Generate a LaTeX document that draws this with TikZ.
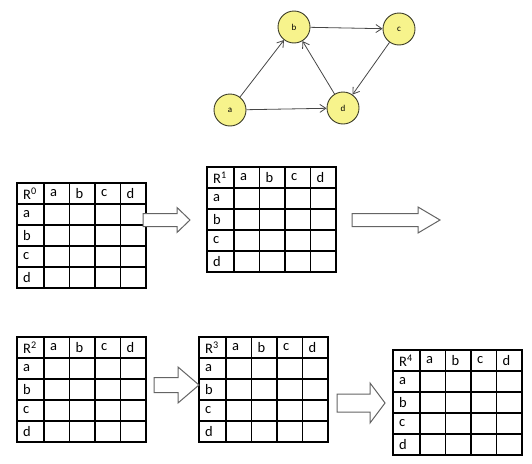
\documentclass[tikz,border=0pt]{standalone}
\usepackage{fontspec}
\setmainfont{Carlito}
\usepackage{tikz}
\usetikzlibrary{arrows.meta}

\definecolor{nodefill}{RGB}{247,243,140}
\definecolor{nodeline}{RGB}{60,60,40}
\definecolor{edgegray}{RGB}{70,70,70}
\definecolor{boxgray}{RGB}{100,100,100}

\tikzset{
  vertex/.style={circle,draw=nodeline,fill=nodefill,line width=0.9pt,
    minimum size=32pt,inner sep=0pt,font=\fontsize{9}{9}\selectfont},
  edge/.style={draw=edgegray,line width=0.8pt,-{Straight Barb[length=6pt,width=8pt]}},
  gridline/.style={black,line width=1.2pt},
  cell/.style={anchor=west,inner xsep=6pt,inner ysep=0pt,font=\fontsize{14.5}{14.5}\selectfont},
  blockarr/.style={draw=boxgray,fill=white,line width=1pt,line join=miter}
}

% table of a relation: name, left, top, superscript
\newcommand{\reltable}[4]{%
  \begin{scope}[shift={(#2,#3)}]
    \draw[gridline] (0,0) rectangle (129,105);
    \foreach \cx in {27,52.5,78,103.5} \draw[gridline] (\cx,0) -- (\cx,105);
    \foreach \ry in {21,42,63,84} \draw[gridline] (0,\ry) -- (129,\ry);
    \node[cell] (#1-h) at (0,10.5) {R\textsuperscript{#4}};
    \foreach \lab [count=\i] in {a,b,c,d} {
      \node[cell] (#1-c\lab) at ({27+(\i-1)*25.5},10.5) {\lab};
      \node[cell] (#1-r\lab) at (0,{10.5+\i*21}) {\lab};
    }
  \end{scope}}

% hollow arrow: tail x, head base x, tip x, mid y, half shaft, half head
\newcommand{\blockarrow}[6]{%
  \draw[blockarr] (#1,#4-#5) -- (#2,#4-#5) -- (#2,#4-#6) -- (#3,#4)
    -- (#2,#4+#6) -- (#2,#4+#5) -- (#1,#4+#5) -- cycle;}

\begin{document}
\begin{tikzpicture}[x=1pt,y=-1pt]
\useasboundingbox (0,0) rectangle (532,463);

% graph
\node[vertex] (a) at (230,110) {a};
\node[vertex] (b) at (294,27) {b};
\node[vertex] (c) at (399,29) {c};
\node[vertex] (d) at (343,108) {d};
\draw[edge] (a) -- (b);
\draw[edge] (b) -- (c);
\draw[edge] (c) -- (d);
\draw[edge] (d) -- (b);
\draw[edge] (a) -- (d);

% tables
\reltable{r0}{17}{183}{0}
\reltable{r1}{207}{167}{1}
\reltable{r2}{17}{337}{2}
\reltable{r3}{199}{337}{3}
\reltable{r4}{393}{350}{4}

% arrows between them
\blockarrow{143}{177}{190}{220}{6.5}{12.5}
\blockarrow{352}{418}{440}{220}{6.5}{13}
\blockarrow{154}{178}{199}{385}{7.5}{18}
\blockarrow{337}{370}{385}{403}{9}{20}
\end{tikzpicture}
\end{document}
